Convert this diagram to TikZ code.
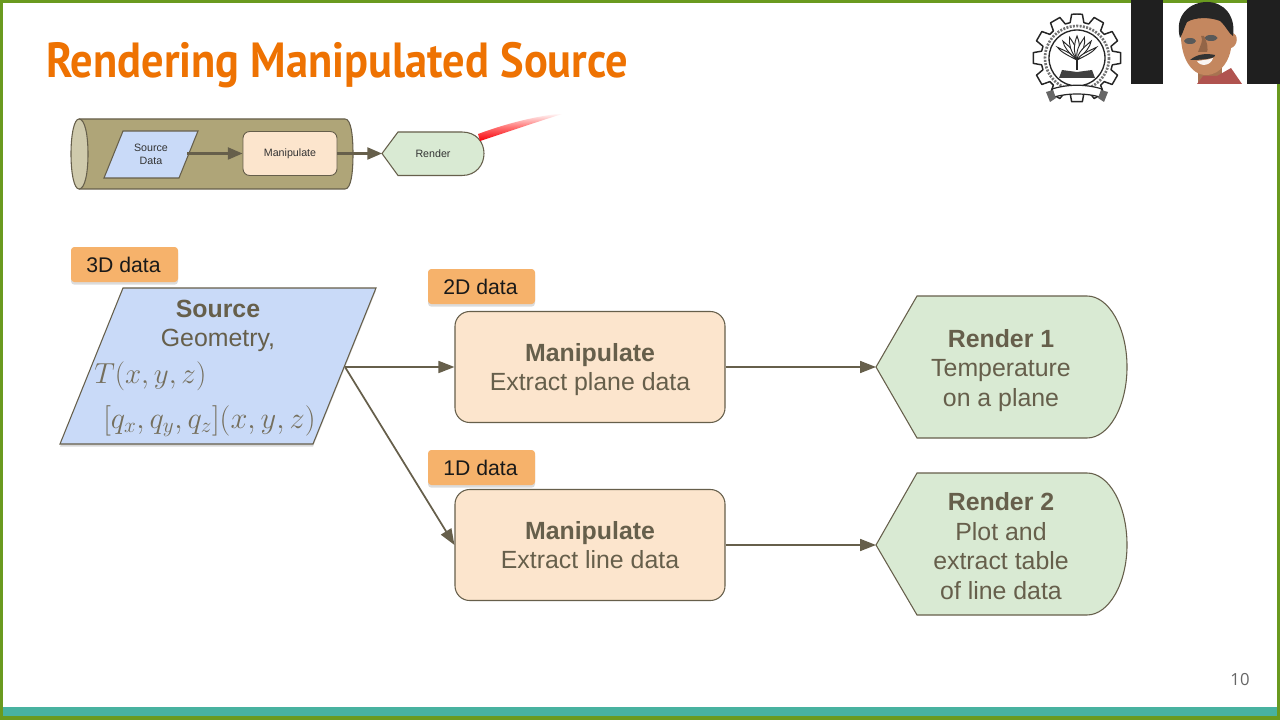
\documentclass[tikz,border=0pt]{standalone}
\usepackage[no-math]{fontspec}
\usepackage{graphicx}
\usetikzlibrary{shadows,arrows.meta}
\newfontfamily\bodyfont{Liberation Sans}
\newfontfamily\titlefont[FakeStretch=0.9]{PT Sans Bold}
\newfontfamily\numfont{Open Sans}
\definecolor{inkc}{HTML}{665F4B}
\definecolor{linec}{HTML}{665F4B}
\definecolor{manfill}{HTML}{FCE5CD}
\definecolor{renfill}{HTML}{D9EAD3}
\definecolor{srcfill}{HTML}{C9DAF8}
\definecolor{tagfill}{HTML}{F6B26B}
\definecolor{cylfill}{HTML}{AFA578}
\definecolor{capfill}{HTML}{CFCAAC}
\definecolor{framec}{HTML}{6A9A1F}
\definecolor{tealc}{HTML}{48B2A0}
\definecolor{titlec}{HTML}{EE7202}
\definecolor{skinc}{HTML}{C4875F}
\definecolor{shirtc}{HTML}{B0534F}
\tikzset{
  x=0.75pt,y=-0.75pt,
  bigbox/.style={draw=linec,line width=0.8pt,fill=manfill,rounded corners=11pt,minimum width=202.5pt,minimum height=83.25pt,inner sep=0pt,text=inkc,align=center,font=\bodyfont\fontsize{18.65}{22.2}\selectfont},
  smallbox/.style={draw=linec,line width=0.7pt,fill=manfill,rounded corners=5pt,minimum width=70.5pt,minimum height=33pt,inner sep=0pt,text=black!80,font=\bodyfont\fontsize{8}{10}\selectfont},
  shapeline/.style={draw=linec,line width=0.8pt},
  bigtext/.style={text=inkc,align=center,inner sep=0pt,font=\bodyfont\fontsize{18.65}{22.2}\selectfont},
  smalltext/.style={text=black!80,align=center,inner sep=0pt,font=\bodyfont\fontsize{8}{9.75}\selectfont},
  tag/.style={fill=tagfill,rounded corners=2.5pt,minimum width=80.25pt,minimum height=26.25pt,inner sep=0pt,text=black!90,font=\bodyfont\fontsize{15.9}{20}\selectfont,drop shadow={opacity=0.28,shadow xshift=0pt,shadow yshift=-2pt}},
  flow/.style={draw=linec,line width=1.3pt,-{Triangle[length=12pt,width=9pt]}},
  smallflow/.style={draw=linec,line width=1.6pt,-{Triangle[length=11pt,width=9pt]}},
  mathtext/.style={text=inkc!90,inner sep=0pt,font=\fontsize{24}{28}\selectfont},
  gearline/.style={draw=black!85,line width=1.1pt,fill=white,line join=round},
}
\begin{document}
\begin{tikzpicture}
\useasboundingbox (0,0) rectangle (1280,720);
\fill[white] (0,0) rectangle (1280,720);
% frame
\fill[tealc] (0,707) rectangle (1280,716);
\fill[framec] (0,0) rectangle (1280,3);
\fill[framec] (0,0) rectangle (3,720);
\fill[framec] (1277,84) rectangle (1280,720);
\fill[framec] (0,716) rectangle (1280,720);
% title
\node[anchor=base west,inner sep=0pt,text=titlec,font=\titlefont\fontsize{37}{42}\selectfont] (title) at (46,78) {Rendering Manipulated Source};
% photo
\fill[black!88] (1131,0) rectangle (1163,84);
\fill[black!88] (1247,0) rectangle (1280,84);
\fill[skinc!85!black] (1198,62) rectangle (1222,84);
\fill[shirtc] (1197,84) -- (1203,76) -- (1217,76) -- (1231,68) -- (1242,84) -- cycle;
\fill[skinc] (1181,32) .. controls (1180,55) and (1190,75) .. (1206,75) .. controls (1222,75) and (1230,58) .. (1231,48) .. controls (1238,46) and (1239,34) .. (1232,33) -- (1225,15) -- (1190,15) -- cycle;
\fill[black!85] (1180,38) .. controls (1174,15) and (1190,2) .. (1207,2) .. controls (1224,2) and (1236,16) .. (1233,36) .. controls (1229,34) and (1226,26) .. (1220,21) .. controls (1210,17) and (1195,17) .. (1187,22) .. controls (1184,28) and (1183,33) .. (1180,38) -- cycle;
\fill[black!65] (1190,41) ellipse (6 and 3);
\fill[black!65] (1211,38) ellipse (6.5 and 3);
\fill[skinc!75!black] (1198,52) .. controls (1200,46) and (1204,40) .. (1201,36) -- (1204,36) .. controls (1208,44) and (1208,50) .. (1207,52) -- cycle;
\fill[black!80] (1190,60) .. controls (1197,54) and (1206,53) .. (1215,55) .. controls (1216,59) and (1200,60) .. (1190,60) -- cycle;
\fill[white!92!skinc] (1197,61) .. controls (1203,60) and (1208,60) .. (1213,58) .. controls (1211,66) and (1200,67) .. (1197,61) -- cycle;
% logo
\draw[gearline] (1077+0,14) \foreach \i in {0,...,11}{
  -- ({1077+44*sin(\i*30+7)},{58-44*cos(\i*30+7)})
  -- ({1077+36*sin(\i*30+11)},{58-36*cos(\i*30+11)})
  -- ({1077+36*sin(\i*30+19)},{58-36*cos(\i*30+19)})
  -- ({1077+44*sin(\i*30+23)},{58-44*cos(\i*30+23)})
} -- cycle;
\draw[black!55,line width=2pt,dash pattern=on 1.5pt off 1pt] (1077,58) circle (32);
\draw[draw=black!85,line width=1pt,fill=white] (1077,58) circle (28);
\foreach \a in {-58,-38,-19,0,19,38,58}{
  \draw[black!85,line width=0.7pt,fill=white] (1077,60) .. controls ({1077+8*sin(\a)-4},{60-10*cos(\a)}) and ({1077+16*sin(\a)-3},{60-16*cos(\a)}) .. ({1077+23*sin(\a)},{60-24*cos(\a)}) .. controls ({1077+16*sin(\a)+3},{60-16*cos(\a)}) and ({1077+8*sin(\a)+4},{60-10*cos(\a)}) .. (1077,60);
}
\draw[black!85,line width=0.9pt] (1077,60) -- (1077,70);
\fill[black!75] (1062,70) -- (1077,72) -- (1092,70) -- (1095,78) -- (1059,78) -- cycle;
\draw[draw=black!85,line width=0.9pt,fill=white] (1052,89) .. controls (1068,84) and (1086,84) .. (1102,89) -- (1100,97) .. controls (1086,93) and (1068,93) .. (1054,97) -- cycle;
\fill[black!60] (1046,92) -- (1053,90) -- (1056,98) -- (1050,102) -- cycle;
\fill[black!60] (1108,92) -- (1101,90) -- (1098,98) -- (1104,102) -- cycle;
% top strip
\fill[cylfill] (79,119) -- (345,119) .. controls (351,119) and (353,135) .. (353,154) .. controls (353,173) and (351,189) .. (345,189) -- (79,189) -- cycle;
\draw[shapeline] (79,119) -- (345,119) .. controls (351,119) and (353,135) .. (353,154) .. controls (353,173) and (351,189) .. (345,189) -- (79,189);
\draw[shapeline,fill=capfill] (79,119) .. controls (74,119) and (71,135) .. (71,154) .. controls (71,173) and (74,189) .. (79,189) .. controls (85,189) and (88,173) .. (88,154) .. controls (88,135) and (85,119) .. (79,119) -- cycle;
\draw[shapeline,fill=srcfill] (123,131) -- (198,131) -- (179,178) -- (104,178) -- cycle;
\node[smalltext] (srcsmall) at (151,154) {Source\\Data};
\coordinate (srcsmallout) at (187,153.5);
\node[smallbox] (mansmall) at (290,153.5) {Manipulate};
\draw[shapeline,fill=renfill] (382,153.5) -- (398,132) -- (462,132) .. controls (476,132) and (484,142) .. (484,153.5) .. controls (484,165) and (476,175.5) .. (462,175.5) -- (398,175.5) -- cycle;
\node[smalltext] (rensmall) at (433,153.5) {Render};
\coordinate (rensmalltip) at (382,153.5);
\draw[smallflow] (srcsmallout) -- (mansmall.west);
\draw[smallflow] (mansmall.east) -- (rensmalltip);
% pen stroke
\shade[right color=red!85!purple,left color=white,middle color=red!55!white,shading angle=0] (478,134) .. controls (505,124) and (535,116) .. (565,113) .. controls (540,121) and (510,131) .. (480,141) -- cycle;
% source
\draw[shapeline,fill=srcfill,drop shadow={opacity=0.3,shadow xshift=0pt,shadow yshift=-2pt}] (123,288) -- (376,288) -- (313,444) -- (60,444) -- cycle;
\node[bigtext] (srctext) at (218,326) {\textbf{Source}\\Geometry,};
\node[mathtext,anchor=west] (tmath) at (94,376) {\scalebox{0.874}{$T(x,y,z)$}};
\node[mathtext,anchor=west] (qmath) at (103,421) {\scalebox{0.917}{$[q_x,q_y,q_z](x,y,z)$}};
\coordinate (srcout) at (345,367);
% tags
\node[tag] (tag3) at (124.5,264.5) {\kern-1.5pt 3D data};
\node[tag] (tag2) at (481.5,286.5) {\kern-1.5pt 2D data};
\node[tag] (tag1) at (481.5,467.5) {\kern-1.5pt 1D data};
% manipulate
\node[bigbox,text depth=0pt] (man1) at (590,367) {\textbf{Manipulate}\\Extract plane data};
\node[bigbox,text depth=0pt] (man2) at (590,545) {\textbf{Manipulate}\\Extract line data};
% render
\draw[shapeline,fill=renfill] (876,367) -- (917,296) -- (1087,296) .. controls (1109,296) and (1127,328) .. (1127,367) .. controls (1127,406) and (1109,438) .. (1087,438) -- (917,438) -- cycle;
\draw[shapeline,fill=renfill] (876,545) -- (917,473) -- (1087,473) .. controls (1109,473) and (1127,505) .. (1127,545) .. controls (1127,583) and (1109,615) .. (1087,615) -- (917,615) -- cycle;
\node[bigtext] (ren1) at (1001,370.5) {\textbf{Render 1}\\Temperature\\on a plane};
\node[bigtext] (ren2) at (1001,546.3) {\textbf{Render 2}\\Plot and\\extract table\\of line data};
\coordinate (ren1tip) at (876,367);
\coordinate (ren2tip) at (876,545);
% connectors
\draw[flow] (srcout) -- (man1.west);
\draw[flow] (srcout) -- (man2.west);
\draw[flow] (man1.east) -- (ren1tip);
\draw[flow] (man2.east) -- (ren2tip);
% page number
\node[inner sep=0pt,text=black!60,font=\numfont\fontsize{12.5}{14}\selectfont] (pagenum) at (1240,680) {10};
\end{tikzpicture}
\end{document}
